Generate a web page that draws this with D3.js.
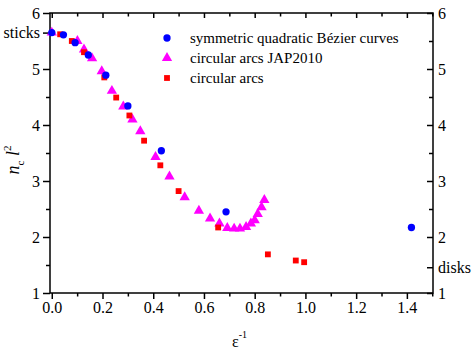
<!DOCTYPE html>
<html><head><meta charset="utf-8">
<script src="https://cdn.jsdelivr.net/npm/d3@7"></script>
<style>
body{margin:0;background:#fff;}
svg text{font-family:"Liberation Serif","Times New Roman",serif !important;fill:#000;}
</style></head>
<body><svg id="c" width="474" height="353"></svg>
<script>
// Data
const bezierX = [0, 0.046, 0.092, 0.144, 0.213, 0.300, 0.432, 0.687, 1.418];
const bezierY = [5.65, 5.61, 5.47, 5.25, 4.89, 4.34, 3.54, 2.45, 2.17];
const jap2010X = [0, 0.101, 0.127, 0.159, 0.197, 0.237, 0.282, 0.318, 0.349, 0.409, 0.464, 0.524, 0.580, 0.624, 0.661, 0.692, 0.719, 0.742, 0.766, 0.785, 0.800, 0.812, 0.827, 0.838];
const jap2010Y = [5.65, 5.50, 5.35, 5.19, 4.96, 4.61, 4.33, 4.10, 3.89, 3.43, 3.08, 2.71, 2.47, 2.33, 2.24, 2.16, 2.15, 2.15, 2.18, 2.24, 2.30, 2.41, 2.53, 2.66];
const arcsX = [0.033, 0.079, 0.127, 0.207, 0.254, 0.306, 0.364, 0.428, 0.500, 0.656, 0.852, 0.962, 0.995];
const arcsY = [5.62, 5.50, 5.30, 4.85, 4.49, 4.17, 3.72, 3.28, 2.82, 2.17, 1.69, 1.58, 1.55];
const seriesNames = ["symmetric quadratic Bézier curves", "circular arcs JAP2010", "circular arcs"];
const xTicks = [0, 0.2, 0.4, 0.6, 0.8, 1.0, 1.2, 1.4];
const xMinor = [0.1, 0.3, 0.5, 0.7, 0.9, 1.1, 1.3, 1.5];
const yTicks = [1, 2, 3, 4, 5, 6];
const yMinorLeft = [1.5, 2.5, 3.5, 4.5];
const yMinorRight = [2.5, 3.5, 4.5, 5.5];
const sticksValue = 5.65, disksValue = 1.46;

const FONT = "'Liberation Serif','Times New Roman',serif";
const svg = d3.select("#c");
const L = 50, R = 433, T = 13, B = 293;
const x = d3.scaleLinear().domain([-0.007, 1.503]).range([L, R]);
const y = d3.scaleLinear().domain([1, 6]).range([B, T]);

function styleAxis(g){
  g.select(".domain").remove();
  g.style("font-family", FONT).attr("font-family", null);
  g.selectAll("line").attr("stroke","#000").attr("stroke-width",1.5);
  g.selectAll("text").style("font-family", FONT).style("font-size","16px");
}
// bottom
svg.append("g").attr("transform",`translate(0,${B})`)
  .call(d3.axisBottom(x).tickValues(xTicks).tickFormat(d3.format(".1f")).tickSize(6).tickPadding(3)).call(styleAxis);
svg.append("g").attr("transform",`translate(0,${B})`)
  .call(d3.axisBottom(x).tickValues(xMinor).tickFormat("").tickSize(3.5)).call(styleAxis);
// top (inward)
svg.append("g").attr("transform",`translate(0,${T})`)
  .call(d3.axisTop(x).tickValues(xTicks).tickFormat("").tickSize(-5)).call(styleAxis);
svg.append("g").attr("transform",`translate(0,${T})`)
  .call(d3.axisTop(x).tickValues(xMinor).tickFormat("").tickSize(-3.5)).call(styleAxis);
// left
svg.append("g").attr("transform",`translate(${L},0)`)
  .call(d3.axisLeft(y).tickValues(yTicks.concat([sticksValue])).tickFormat(d => d === sticksValue ? "sticks" : d3.format("d")(d)).tickSize(7).tickPadding(3)).call(styleAxis);
svg.append("g").attr("transform",`translate(${L},0)`)
  .call(d3.axisLeft(y).tickValues(yMinorLeft).tickFormat("").tickSize(4)).call(styleAxis);
// right (inward ticks)
svg.append("g").attr("transform",`translate(${R},0)`)
  .call(d3.axisRight(y).tickValues(yTicks.concat([disksValue])).tickFormat(d => d === disksValue ? "disks" : d3.format("d")(d)).tickSizeInner(-6).tickSizeOuter(0).tickPadding(5)).call(styleAxis);
svg.append("g").attr("transform",`translate(${R},0)`)
  .call(d3.axisRight(y).tickValues(yMinorRight).tickFormat("").tickSizeInner(-4).tickSizeOuter(0)).call(styleAxis);

// frame
svg.append("rect").attr("x",L).attr("y",T).attr("width",R-L).attr("height",B-T)
  .attr("fill","none").attr("stroke","#000").attr("stroke-width",1.5);

// markers
const tri = d3.symbol().type(d3.symbolTriangle).size(46);
const sq = d3.symbol().type(d3.symbolSquare).size(34);
const circ = d3.symbol().type(d3.symbolCircle).size(42);
const zip = (a,b) => a.map((v,i)=>[v,b[i]]);
svg.append("g").selectAll("path").data(zip(jap2010X,jap2010Y)).join("path")
  .attr("d",tri).attr("fill","#ff00ff").attr("transform",d=>`translate(${x(d[0])},${y(d[1])})`);
svg.append("g").selectAll("path").data(zip(arcsX,arcsY)).join("path")
  .attr("d",sq).attr("fill","#ff0000").attr("transform",d=>`translate(${x(d[0])},${y(d[1])})`);
svg.append("g").selectAll("path").data(zip(bezierX,bezierY)).join("path")
  .attr("d",circ).attr("fill","#0000ff").attr("transform",d=>`translate(${x(d[0])},${y(d[1])})`);

// legend
const legend = svg.append("g");
const legSyms = [circ, tri, sq], legCols = ["#0000ff","#ff00ff","#ff0000"];
seriesNames.forEach((n,i)=>{
  const yy = 38 + i*20;
  legend.append("path").attr("d",legSyms[i]).attr("fill",legCols[i]).attr("transform",`translate(167,${yy})`);
  legend.append("text").attr("x",190).attr("y",yy+5).style("font-size","15px").text(n);
});

// axis titles
const xt = svg.append("text").attr("x",232).attr("y",347).style("font-size","16px");
xt.append("tspan").text("ε");
xt.append("tspan").style("font-size","10px").attr("dy",-9).text("-1");

const yt = svg.append("text").attr("transform","translate(19,160) rotate(-90)").attr("text-anchor","middle").style("font-size","18px").style("font-style","italic");
yt.append("tspan").text("n");
yt.append("tspan").style("font-size","11px").style("font-style","normal").attr("dy",5).text("c");
yt.append("tspan").attr("dy",-5).text(" l");
yt.append("tspan").style("font-size","11px").style("font-style","normal").attr("dy",-8).text("2");
</script></body></html>
